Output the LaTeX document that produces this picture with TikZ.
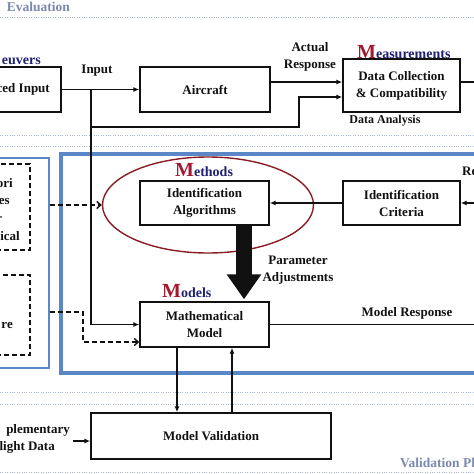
\documentclass[tikz,border=0pt]{standalone}
\usepackage{fontspec}
\setmainfont{Liberation Serif}
\usetikzlibrary{arrows.meta,shapes.geometric}

\begin{document}
\begin{tikzpicture}[x=1pt,y=-1pt, font=\fontsize{13}{17}\selectfont\bfseries, line cap=butt, line join=miter]
  \definecolor{Ink}{HTML}{111111}
  \definecolor{PanelBlue}{HTML}{5B87C6}
  \definecolor{RuleBlue}{HTML}{A9B6D0}
  \definecolor{PhaseBlue}{HTML}{7A89AE}
  \definecolor{QuadRed}{HTML}{A3192F}
  \definecolor{QuadNavy}{HTML}{1F2170}
  \definecolor{RingRed}{HTML}{8C1C24}

  \tikzset{
    block/.style={draw=Ink, line width=1.4pt, align=center, text=Ink, inner sep=2pt},
    priorbox/.style={draw=Ink, line width=1.4pt, dash pattern=on 5pt off 3pt, inner sep=0pt},
    flow/.style={draw=Ink, line width=1.2pt, -{Latex[length=6pt,width=5pt]}},
    wire/.style={draw=Ink, line width=1.2pt},
    hint/.style={draw=Ink, line width=1.4pt, dash pattern=on 5pt off 3pt, -{Straight Barb[length=4pt,width=7pt]}},
    note/.style={text=Ink, align=center, inner sep=0pt},
    cutoff/.style={text=Ink, anchor=east, inner sep=0pt},
    quad/.style={text=QuadNavy, anchor=base west, inner sep=0pt, font=\fontsize{14}{14}\selectfont\bfseries},
    phase/.style={text=PhaseBlue, inner sep=0pt, font=\fontsize{13.5}{14}\selectfont\bfseries},
    rule/.style={draw=RuleBlue, line width=0.9pt, dash pattern=on 0.8pt off 1.6pt}
  }
  \def\quadM#1{\textcolor{QuadRed}{\fontsize{20}{20}\selectfont #1}}

  \useasboundingbox (0,0) rectangle (474,474);
  \clip (0,0) rectangle (474,474);

  % Phase rules
  \foreach \y in {17,135,146,392,404,472}
    \draw[rule] (0,\y) -- (474,\y);
  \node[phase, anchor=base east] (evalphase) at (70,11) {Evaluation};
  \node[phase, anchor=base west] (validphase) at (400,467) {Validation Ph};

  % Panels
  \draw[PanelBlue, line width=4pt] (61,153.5) rectangle (495,373);
  \node[draw=PanelBlue, line width=1.3pt, minimum width=64pt, minimum height=210pt, inner sep=0pt] (prior) at (17,263) {};
  \node[ellipse, draw=RingRed, line width=1.4pt, minimum width=211pt, minimum height=96pt, inner sep=0pt] (ring) at (208,205) {};

  % Blocks
  \node[block, minimum width=150pt, minimum height=45pt] (optin) at (-14,89.5) {};
  \node[cutoff] (optintext) at (50,89.5) {ced Input};
  \node[block, minimum width=130pt, minimum height=45pt] (aircraft) at (205,89.5) {Aircraft};
  \node[block, minimum width=117pt, minimum height=53pt] (datacoll) at (401.5,85.5) {Data Collection\\\& Compatibility};
  \node[block, minimum width=129pt, minimum height=44pt] (algo) at (204.5,203) {Identification\\Algorithms};
  \node[block, minimum width=117pt, minimum height=44pt] (criteria) at (401.5,203) {Identification\\Criteria};
  \node[block, minimum width=129pt, minimum height=45pt] (model) at (204.5,324.5) {Mathematical\\Model};
  \node[block, minimum width=240pt, minimum height=46pt] (valid) at (211,436) {Model Validation};

  % Prior knowledge boxes (cut at the left edge)
  \node[priorbox, minimum width=50pt, minimum height=86pt] (apriori) at (5,207) {};
  \node[priorbox, minimum width=50pt, minimum height=80pt] (priorb) at (5,315) {};
  \foreach \x/\y/\frag [count=\i] in {13/183/ori, 10/201/es, 3/219/-, 20/236/ical}
    \node[cutoff] (apriori-\i) at (\x,\y) {\frag};
  \node[cutoff] (priorb-1) at (13,325) {re};
  \node[cutoff] (comp-1) at (70,430) {plementary};
  \node[cutoff] (comp-2) at (55,447) {light Data};

  % Quad-M labels
  \node[quad, anchor=base east] (maneuvers) at (41,64) {euvers};
  \node[quad] (measurements) at (357,58) {\quadM{M}easurements};
  \node[quad] (methods) at (175,176) {\quadM{M}ethods};
  \node[quad] (models) at (162,297) {\quadM{M}odels};

  % Signal labels
  \node[note] (inputlbl) at (97,71) {Input};
  \node[note] (actuallbl) at (310,57) {Actual\\Response};
  \node[note, font=\fontsize{12}{14}\selectfont\bfseries] (analysislbl) at (385,121) {Data Analysis};
  \node[note] (paramlbl) at (298,270) {Parameter\\Adjustments};
  \node[note] (responselbl) at (407,313) {Model Response};
  \node[note, anchor=west] (rimlbl) at (462,171) {Re};

  % Connectors
  \coordinate (split) at (91,89.5);
  \coordinate (tap) at (91,127);
  \coordinate (riser) at (299,127);
  \coordinate (rimtop) at (480,82);
  \coordinate (rimmid) at (480,203);
  \coordinate (rimlow) at (480,324.5);
  \coordinate (compstart) at (73,441);
  \coordinate (bend) at (83,312);

  \draw[flow] (optin.east) -- (aircraft.west);
  \draw[flow] (split) |- (model.west);
  \draw[flow] (tap) -- (riser) |- ([yshift=-11.5pt]datacoll.west);
  \draw[flow] ([yshift=7.5pt]aircraft.east) -- ([yshift=7.5pt]aircraft.east -| datacoll.west);
  \draw[wire] ([yshift=3.5pt]datacoll.east) -- (rimtop);
  \draw[flow] (rimmid) -- (criteria.east);
  \draw[flow] (criteria.west) -- (algo.east);
  \draw[wire] (model.east) -- (rimlow);
  \draw[flow] ([xshift=-27.5pt]model.south) -- ([xshift=-27.5pt]model.south |- valid.north);
  \draw[flow] ([xshift=27.5pt]model.south |- valid.north) -- ([xshift=27.5pt]model.south);
  \draw[flow] (compstart) -- (compstart -| valid.west);
  \draw[hint] (prior.east |- ring.west) -- (ring.west);
  \draw[hint] (prior.east |- bend) -- (bend) |- ([yshift=-17.5pt]model.west);

  % Parameter update arrow
  \draw[Ink, line width=16pt, shorten >=2pt, -{Triangle[length=25pt,width=33pt]}]
    ([xshift=39.5pt]algo.south) -- ([xshift=39.5pt]model.north);
\end{tikzpicture}
\end{document}
